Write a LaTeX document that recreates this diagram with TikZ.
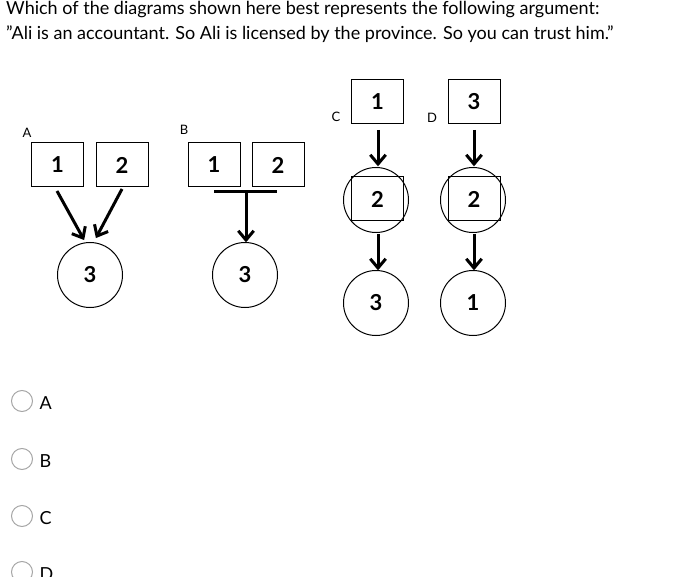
\documentclass[tikz,border=0pt]{standalone}
\usepackage{fontspec}
\setmainfont[Ligatures=NoCommon]{Lato}
\usetikzlibrary{calc}
\newcommand\myarr[2]{\draw[line width=3pt] (#1) -- (#2);
  \draw[line width=3pt,line join=miter,line cap=butt] ($(#2)!12pt!-40:(#1)$) -- (#2) -- ($(#2)!12pt!40:(#1)$);}
\begin{document}
\begin{tikzpicture}[x=1pt,y=-1pt,
  bx/.style={draw,line width=1pt,minimum width=52pt,minimum height=44pt,inner sep=0pt,font=\fontsize{22}{22}\selectfont\bfseries},
  cr/.style={draw,circle,line width=1pt,minimum size=65pt,inner sep=0pt,font=\fontsize{22}{22}\selectfont\bfseries},
  lb/.style={font=\fontsize{13}{13}\selectfont},
  radio/.style={draw=gray!70,circle,minimum size=21pt,inner sep=0pt,line width=1pt},
  opt/.style={font=\fontsize{18}{18}\selectfont,anchor=west}]
\useasboundingbox (0,0) rectangle (677,577);
\node[anchor=north west,align=left,font=\fontsize{18}{25}\selectfont,inner sep=0pt] (title) at (6,1)
 {Which of the diagrams shown here best represents the following argument:\\\symbol{34}Ali is an accountant. So Ali is licensed by the province. So you can trust him.\symbol{34}};
% A
\node[lb] (la) at (27,133) {A};
\node[bx] (a1) at (57.5,165) {1};
\node[bx] (a2) at (122,165) {2};
\node[cr] (a3) at (90,275) {3};
\coordinate (a1s) at (57,191); \coordinate (a1e) at (83,238);
\coordinate (a2s) at (122,189); \coordinate (a2e) at (97,236);
\myarr{a1s}{a1e}
\myarr{a2s}{a2e}
% B
\node[lb] (lbb) at (184,130) {B};
\node[bx] (b1) at (214,165) {1};
\node[bx] (b2) at (278,165) {2};
\node[cr] (b3) at (245,275) {3};
\coordinate (bl) at (214,192); \coordinate (br) at (277,192); \coordinate (bm) at (246,192);
\coordinate (be) at (246,240);
\draw[line width=3pt] (bl) -- (br);
\myarr{bm}{be}
% C
\node[lb] (lc) at (336,117) {C};
\node[bx] (c1) at (377.5,101.5) {1};
\node[cr] (c2) at (376,200) {};
\node[bx] (c2b) at (377.5,199) {2};
\node[cr] (c3) at (376,303) {3};
\coordinate (c1s) at (378,130); \coordinate (c1e) at (378,164);
\coordinate (c2s) at (378,234); \coordinate (c2e) at (378,268);
\myarr{c1s}{c1e}
\myarr{c2s}{c2e}
% D
\node[lb] (ld) at (432,118) {D};
\node[bx] (d1) at (474,101.5) {3};
\node[cr] (d2) at (473,200) {};
\node[bx] (d2b) at (474,199) {2};
\node[cr] (d3) at (473,303) {1};
\coordinate (d1s) at (474,130); \coordinate (d1e) at (474,164);
\coordinate (d2s) at (474,234); \coordinate (d2e) at (474,268);
\myarr{d1s}{d1e}
\myarr{d2s}{d2e}
% options
\foreach \y/\t in {401/A,459/B,516/C,572/D}{
  \node[radio] (r\t) at (22,\y) {};
  \node[opt] (o\t) at (36,\y+2) {\t};
}
\end{tikzpicture}
\end{document}
